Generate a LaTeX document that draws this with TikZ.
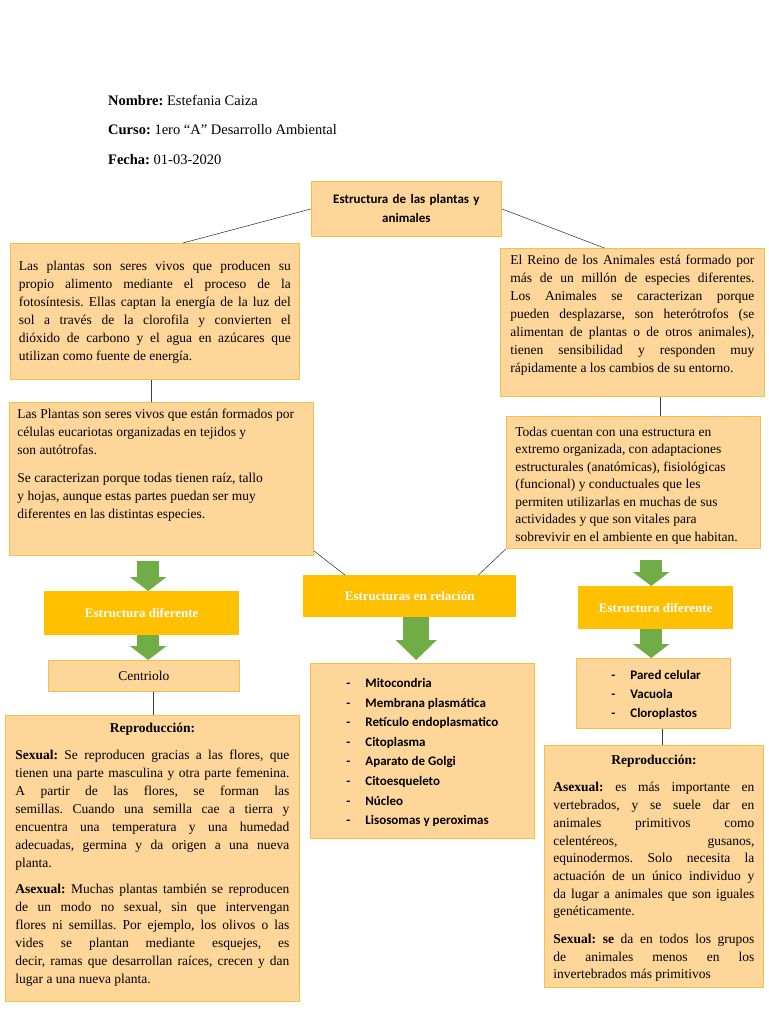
\documentclass[tikz,border=0pt]{standalone}
\usepackage{fontspec}
\setmainfont{Liberation Serif}
\newfontfamily\calibri{Carlito}
\usetikzlibrary{arrows.meta,positioning,calc}
\definecolor{cajaFondo}{HTML}{FFD699}
\definecolor{cajaBorde}{HTML}{F5C04A}
\definecolor{cajaFuerte}{HTML}{FFC000}
\definecolor{flechaVerde}{HTML}{70AD47}
\definecolor{lineaGris}{HTML}{404040}
\frenchspacing
\newcommand{\cuerpo}[1][18]{\fontsize{13.5}{#1}\selectfont}
\newcommand{\guion}[1]{\makebox[19pt][l]{-}#1\par}

\tikzset{
  caja/.style={draw=cajaBorde, line width=0.8pt, fill=cajaFondo, anchor=north west, inner ysep=0pt},
  fuerte/.style={fill=cajaFuerte, anchor=north west, inner sep=0pt, text=white,
    font={\bfseries\fontsize{13}{16}\selectfont}},
  linea/.style={draw=lineaGris, line width=0.6pt},
  flecha/.style={draw=flechaVerde, line width=22pt, -{Triangle[length=14pt,width=36pt]}},
  flechagrande/.style={draw=flechaVerde, line width=26pt, -{Triangle[length=20pt,width=40pt]}}
}

\begin{document}
\begin{tikzpicture}[x=1pt,y=-1pt]
  \useasboundingbox (0,0) rectangle (768,1024);

  % datos
  \foreach \campo/\dato/\yy [count=\i] in {Nombre/Estefania Caiza/106, Curso/1ero “A” Desarrollo Ambiental/135, Fecha/01-03-2020/165}
    \node[anchor=base west, inner sep=0pt, font={\fontsize{14.5}{16}\selectfont}] (cab\i) at (108,\yy) {\textbf{\campo:} \dato};

  \node[caja, minimum width=190pt, minimum height=55pt, text width=176pt, align=center,
    font={\calibri\bfseries\fontsize{13}{19}\selectfont}] (tema) at (311,181) {Estructura de las plantas y\\animales};

  % plantas
  \node[caja, inner xsep=8.5pt] (plantas) at (10,243) {\parbox[c][136pt][t]{272pt}{\cuerpo\vspace*{18pt}%
    Las plantas son seres vivos que producen su\linebreak
    propio alimento mediante el proceso de la\linebreak
    fotosíntesis. Ellas captan la energía de la luz del\linebreak
    sol a través de la clorofila y convierten el\linebreak
    dióxido de carbono y el agua en azúcares que\linebreak
    utilizan como fuente de energía.}};

  \node[caja, inner xsep=8pt] (celulas) at (9,402) {\parbox[c][153pt][t]{288pt}{\cuerpo\raggedright\vspace*{6.5pt}%
    Las Plantas son seres vivos que están formados por\\
    células eucariotas organizadas en tejidos y\\
    son autótrofas.\par\vspace{10pt}
    Se caracterizan porque todas tienen raíz, tallo\\
    y hojas, aunque estas partes puedan ser muy\\
    diferentes en las distintas especies.}};

  % animales
  \node[caja, inner xsep=10pt] (animales) at (500,248) {\parbox[c][148pt][t]{244pt}{\cuerpo\vspace*{6.5pt}%
    El Reino de los Animales está formado por\linebreak
    más de un millón de especies diferentes.\linebreak
    Los Animales se caracterizan porque\linebreak
    pueden desplazarse, son heterótrofos (se\linebreak
    alimentan de plantas o de otros animales),\linebreak
    tienen sensibilidad y responden muy\linebreak
    rápidamente a los cambios de su entorno.}};

  \node[caja, inner xsep=9pt] (celdas) at (506,416) {\parbox[c][132pt][t]{236pt}{\cuerpo[17.5]\raggedright\vspace*{10.5pt}%
    Todas cuentan con una estructura en\\
    extremo organizada, con adaptaciones\\
    estructurales (anatómicas), fisiológicas\\
    (funcional) y conductuales que les\\
    permiten utilizarlas en muchas de sus\\
    actividades y que son vitales para\\
    sobrevivir en el ambiente en que habitan.}};

  % rotulos
  \node[fuerte, minimum width=195pt, minimum height=44pt] (estrIzq) at (44,591) {Estructura diferente};
  \node[fuerte, minimum width=213pt, minimum height=42pt] (relacion) at (303,575) {Estructuras en relación};
  \node[fuerte, minimum width=155pt, minimum height=43pt] (estrDer) at (578,586) {Estructura diferente};

  \node[caja, inner sep=0pt, minimum width=191pt, minimum height=31pt, font=\cuerpo] (centriolo) at (48,660) {Centriolo};

  \node[caja, inner xsep=0pt] (lista) at (310,663) {\parbox[c][175pt][t]{224pt}{\calibri\bfseries\fontsize{13}{19.6}\selectfont
    \leftskip=36pt\vspace*{15pt}%
    \guion{Mitocondria}
    \guion{Membrana plasmática}
    \guion{Retículo endoplasmatico}
    \guion{Citoplasma}
    \guion{Aparato de Golgi}
    \guion{Citoesqueleto}
    \guion{Núcleo}
    \guion{Lisosomas y peroximas}}};

  \node[caja, inner xsep=0pt] (listaDer) at (576,658) {\parbox[c][70pt][t]{154pt}{\calibri\bfseries\fontsize{13}{19}\selectfont
    \leftskip=35pt\vspace*{12pt}%
    \guion{Pared celular}
    \guion{Vacuola}
    \guion{Cloroplastos}}};

  % reproduccion
  \node[caja, inner xsep=10pt] (reproP) at (5,715) {\parbox[c][286pt][t]{274pt}{\cuerpo\vspace*{7.5pt}%
    \makebox[\linewidth]{\textbf{Reproducción:}}\par\vspace{9pt}
    \textbf{Sexual:} Se reproducen gracias a las flores, que\linebreak
    tienen una parte masculina y otra parte femenina.\linebreak
    A partir de las flores, se forman las\linebreak
    semillas. Cuando una semilla cae a tierra y\linebreak
    encuentra una temperatura y una humedad\linebreak
    adecuadas, germina y da origen a una nueva\linebreak
    planta.\par\vspace{8pt}
    \textbf{Asexual:} Muchas plantas también se reproducen\linebreak
    de un modo no sexual, sin que intervengan\linebreak
    flores ni semillas. Por ejemplo, los olivos o las\linebreak
    vides se plantan mediante esquejes, es\linebreak
    decir, ramas que desarrollan raíces, crecen y dan\linebreak
    lugar a una nueva planta.}};

  \node[caja, inner xsep=9pt] (reproA) at (544,745) {\parbox[c][242pt][t]{201pt}{\cuerpo[17.7]\vspace*{9.5pt}%
    \makebox[\linewidth]{\textbf{Reproducción:}}\par\vspace{10pt}
    \textbf{Asexual:} es más importante en\linebreak
    vertebrados, y se suele dar en\linebreak
    animales primitivos como\linebreak
    celentéreos, gusanos,\linebreak
    equinodermos. Solo necesita la\linebreak
    actuación de un único individuo y\linebreak
    da lugar a animales que son iguales\linebreak
    genéticamente.\par\vspace{10pt}
    \textbf{Sexual: se} da en todos los grupos\linebreak
    de animales menos en los\linebreak
    invertebrados más primitivos}};

  % conectores
  \draw[linea] (tema.west) -- ([xshift=28pt]plantas.north);
  \draw[linea] (tema.east) -- ([xshift=-28pt]animales.north);
  \draw[linea] ([xshift=-3.5pt]plantas.south) -- ([xshift=-3.5pt]plantas.south |- celulas.north);
  \draw[linea] ([xshift=28pt]animales.south) -- ([xshift=28pt]animales.south |- celdas.north);
  \draw[linea] ([yshift=5pt]celulas.south east) -- ([xshift=42pt]relacion.north west);
  \draw[linea] (celdas.south west) -- ([xshift=-38pt]relacion.north east);
  \draw[linea] ([xshift=1pt]reproP.north |- centriolo.south) -- ([xshift=1pt]reproP.north);
  \draw[linea] ([xshift=8pt]reproA.north |- listaDer.south) -- ([xshift=8pt]reproA.north);

  % flechas verdes
  \draw[flecha, shorten <=5pt] ([xshift=6.5pt]estrIzq.north |- celulas.south) -- ([xshift=6.5pt]estrIzq.north);
  \draw[flecha] ([xshift=6.5pt]estrIzq.south) -- ([xshift=6.5pt]estrIzq.south |- centriolo.north);
  \draw[flechagrande, shorten >=3pt] ([xshift=6.5pt]relacion.south) -- ([xshift=6.5pt]relacion.south |- lista.north);
  \draw[flecha, shorten <=11pt] ([xshift=-4.5pt]estrDer.north |- celdas.south) -- ([xshift=-4.5pt]estrDer.north);
  \draw[flecha] ([xshift=-4.5pt]estrDer.south) -- ([xshift=-4.5pt]estrDer.south |- listaDer.north);
\end{tikzpicture}
\end{document}
